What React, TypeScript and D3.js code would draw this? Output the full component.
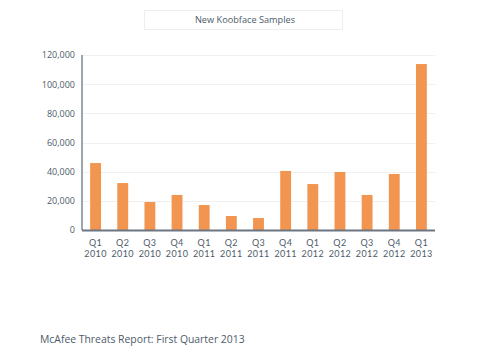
import React, { useEffect, useRef } from 'react';
import * as d3 from 'd3';

const quarters = ['Q1', 'Q2', 'Q3', 'Q4', 'Q1', 'Q2', 'Q3', 'Q4', 'Q1', 'Q2', 'Q3', 'Q4', 'Q1'];
const years = ['2010', '2010', '2010', '2010', '2011', '2011', '2011', '2011', '2012', '2012', '2012', '2012', '2013'];
const samples = [45900, 32200, 19200, 24000, 17100, 9600, 8200, 40500, 31500, 39800, 24000, 38400, 113800];
const yTicks = [0, 20000, 40000, 60000, 80000, 100000, 120000];

const App = () => {
    const svgRef = useRef<SVGSVGElement>(null);

    useEffect(() => {
        const width = 502;
        const height = 353;
        const margin = { top: 55, right: 67, bottom: 123, left: 82 };
        const innerW = width - margin.left - margin.right;
        const innerH = height - margin.top - margin.bottom;
        const textColor = '#4d5b69';

        const root = d3.select(svgRef.current);
        root.selectAll('*').remove();
        root.attr('width', width).attr('height', height).style('font-family', '"Open Sans", sans-serif');

        // title box
        root.append('rect')
            .attr('x', 144.5).attr('y', 10.5).attr('width', 198).attr('height', 19)
            .attr('fill', '#fff').attr('stroke', '#eeeeee');
        root.append('text')
            .attr('x', 245).attr('y', 23)
            .attr('text-anchor', 'middle')
            .attr('font-size', 9.2)
            .attr('fill', textColor)
            .text('New Koobface Samples');

        const svg = root.append('g').attr('transform', `translate(${margin.left},${margin.top})`);

        const labels = quarters.map((q, i) => `${q} ${years[i]}`);
        const x = d3.scaleBand().domain(labels).range([0, innerW]).paddingInner(0.6).paddingOuter(0.3);
        const y = d3.scaleLinear().domain([0, 120000]).range([innerH, 0]);

        // grid lines
        svg.append('g')
            .selectAll('line')
            .data(yTicks.slice(1))
            .join('line')
            .attr('x1', 0).attr('x2', innerW)
            .attr('y1', (d) => Math.round(y(d)) + 0.5).attr('y2', (d) => Math.round(y(d)) + 0.5)
            .attr('stroke', '#f0f0f0');

        // bars
        svg.append('g')
            .selectAll('rect')
            .data(samples)
            .join('rect')
            .attr('x', (d, i) => x(labels[i]) as number)
            .attr('y', (d) => y(d))
            .attr('width', x.bandwidth())
            .attr('height', (d) => innerH - y(d))
            .attr('fill', '#f19550');

        // y axis
        const yAxis = svg.append('g').call(
            d3.axisLeft(y).tickValues(yTicks).tickSize(0).tickPadding(7).tickFormat(d3.format(','))
        );
        yAxis.select('.domain').remove();
        yAxis.selectAll('text').attr('fill', textColor).attr('font-size', 9).style('font-family', '"Open Sans", sans-serif');

        svg.append('line')
            .attr('x1', 0).attr('x2', 0).attr('y1', 0).attr('y2', innerH)
            .attr('stroke', '#7c8792').attr('stroke-width', 1.5);

        // x axis
        svg.append('line')
            .attr('x1', 0).attr('x2', innerW).attr('y1', innerH + 0.5).attr('y2', innerH + 0.5)
            .attr('stroke', '#6b7682').attr('stroke-width', 2);

        const cx = (d: string) => (x(d) as number) + x.bandwidth() / 2;
        const rows = [quarters, years];
        rows.forEach((row, r) => {
            svg.append('g')
                .selectAll('text')
                .data(labels)
                .join('text')
                .attr('x', cx)
                .attr('y', innerH + 16 + r * 11)
                .attr('text-anchor', 'middle')
                .attr('font-size', 9)
                .attr('letter-spacing', 0.4)
                .style('font-family', 'Lato, sans-serif')
                .attr('fill', textColor)
                .text((d, i) => row[i]);
        });

        // footer
        root.append('text')
            .attr('x', 40).attr('y', 343)
            .attr('font-size', 10.4)
            .attr('fill', textColor)
            .text('McAfee Threats Report: First Quarter 2013');
    }, []);

    return (
        <div>
            <svg ref={svgRef} style={{ position: 'absolute', left: 0, top: 0 }}></svg>
        </div>
    );
};

export default App;
